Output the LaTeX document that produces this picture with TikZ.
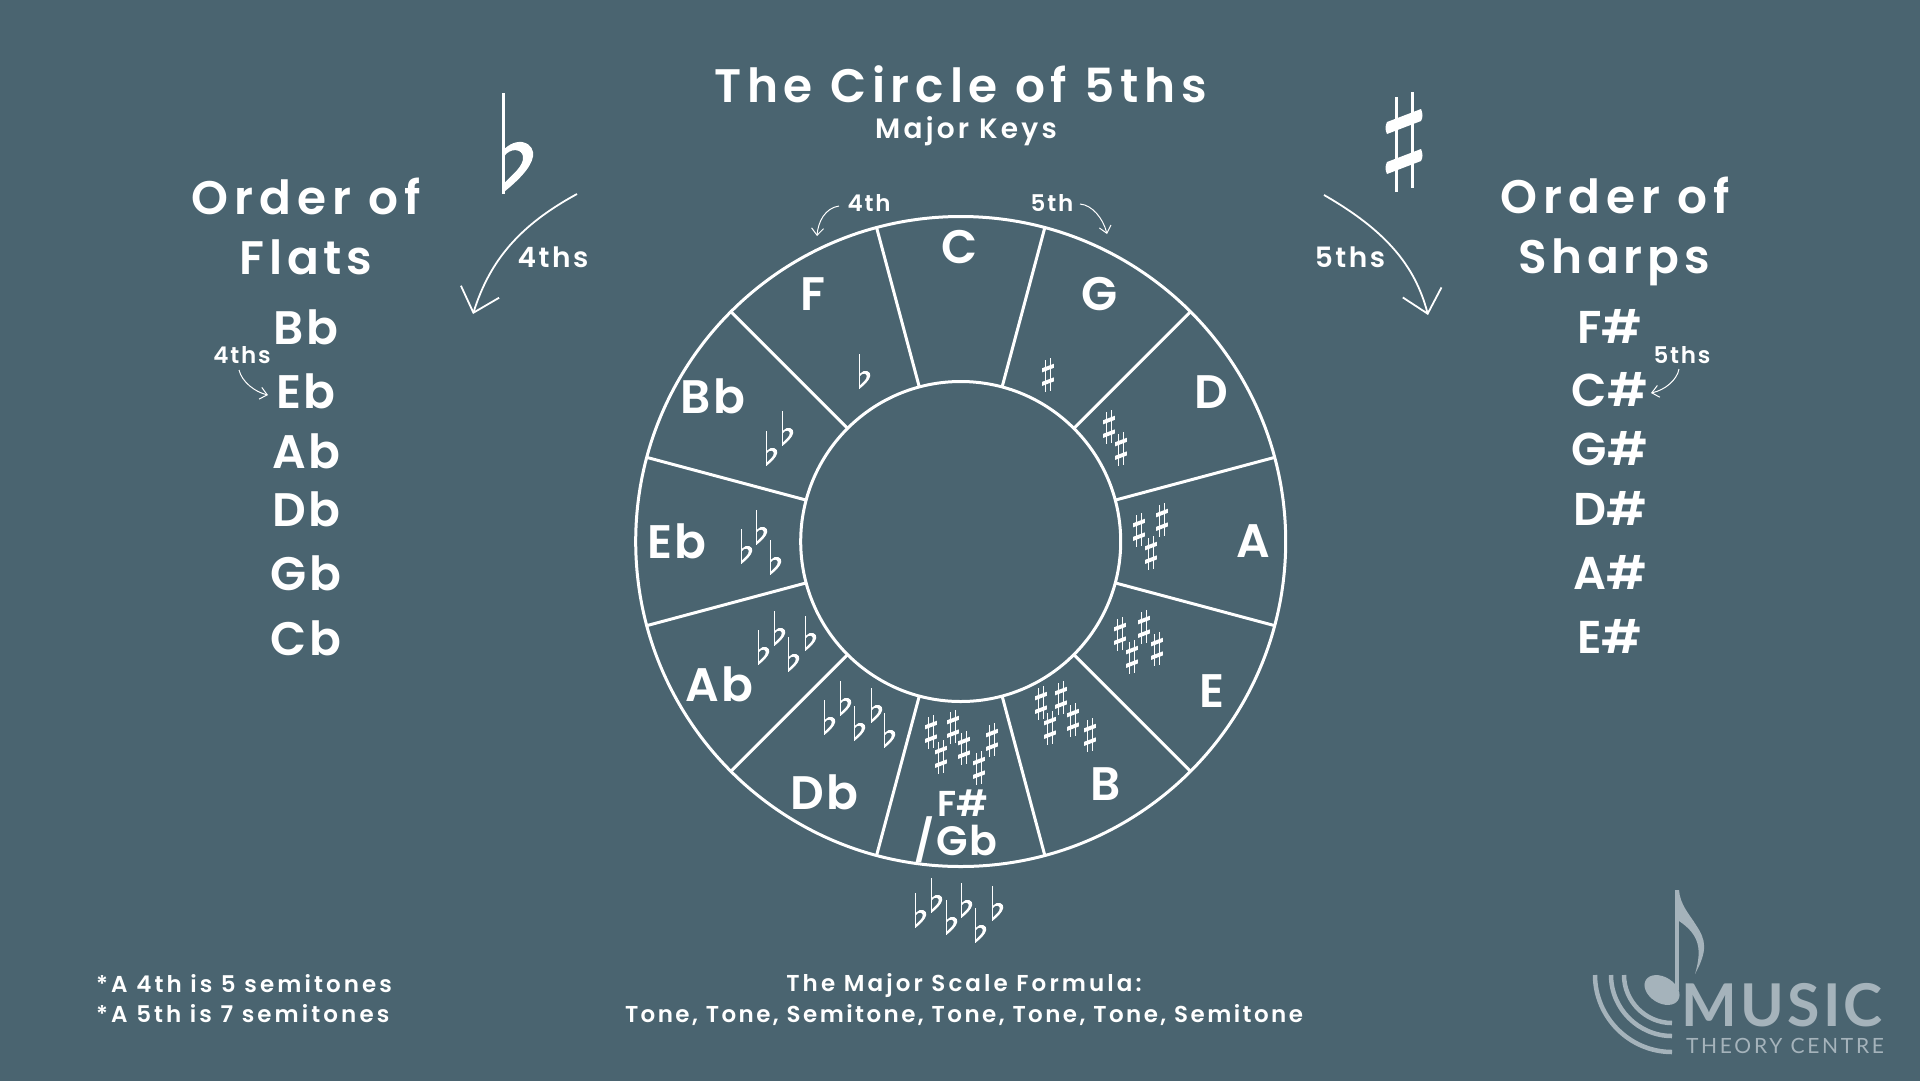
\documentclass[tikz,border=0pt]{standalone}
\usepackage{fontspec}
\setmainfont{Poppins}[BoldFont={Poppins SemiBold}]
\newfontfamily\logofont{Lato}
\usetikzlibrary{arrows.meta}

\definecolor{slatebg}{HTML}{4A6470}
\definecolor{logogrey}{HTML}{A5B3BB}

\tikzset{
    keyname/.style={text=white, inner sep=0pt, font=\bfseries\fontsize{47}{47}\selectfont\addfontfeature{LetterSpace=5}},
    sharpname/.style={text=white, inner sep=0pt, font=\bfseries\fontsize{46}{46}\selectfont},
    heading/.style={text=white, inner sep=0pt, font=\bfseries\fontsize{47}{47}\selectfont\addfontfeature{LetterSpace=13}},
    subheading/.style={text=white, inner sep=0pt, font=\bfseries\fontsize{47}{47}\selectfont\addfontfeature{LetterSpace=10}},
    interval/.style={text=white, inner sep=0pt, font=\bfseries\fontsize{28}{28}\selectfont\addfontfeature{LetterSpace=9}},
    remark/.style={text=white, inner sep=0pt, font=\bfseries\fontsize{23}{23}\selectfont\addfontfeature{LetterSpace=8}},
    footer/.style={text=white, inner sep=0pt, font=\bfseries\fontsize{23}{23}\selectfont\addfontfeature{LetterSpace=13.5}},
    ring/.style={draw=white, line width=3pt},
    sweep/.style={draw=white, line width=1.8pt, -{Straight Barb[length=22pt,width=40pt,line width=1.8pt]}},
    nudge/.style={draw=white, line width=1pt, -{Straight Barb[length=7pt,width=12pt,line width=1pt]}},
    pics/flatmark/.style={code={
        \fill[white] (-16.2,-50) rectangle (-13.4,51);
        \fill[white] (-15,8) .. controls (-9,1) and (0,-2) .. (6,0) .. controls (13,2) and (16,8) .. (15,14)
            .. controls (13,26) and (-2,40) .. (-16,51) -- (-14,41) .. controls (-6,32) and (6,24) .. (5,14)
            .. controls (4,6) and (-8,5) .. (-14,14) -- cycle;
    }},
    pics/sharpmark/.style={code={
        \fill[white] (-9.5,-45) rectangle (-6.5,50);
        \fill[white] (6.5,-50) rectangle (9.5,46);
        \foreach \d in {0,40} {
            \fill[white] (-17,-20+\d) -- (17,-33+\d) .. controls (19,-28+\d) and (19,-25+\d) .. (17,-21+\d)
                -- (-17,-8+\d) .. controls (-19,-12+\d) and (-19,-16+\d) .. (-17,-20+\d) -- cycle;
        }
    }},
}

\begin{document}
\begin{tikzpicture}[x=1pt,y=-1pt]
    \useasboundingbox (0,0) rectangle (1920,1080);
    \fill[slatebg] (-5,-5) rectangle (1925,1085);

    % wheel
    \coordinate (hub) at (960.7,541.5);
    \draw[ring] (hub) circle[radius=325pt];
    \draw[ring] (hub) circle[radius=160pt];
    \foreach \a in {15,45,...,345} {
        \draw[ring] (960.7+160*cos \a,541.5+160*sin \a) -- (960.7+325*cos \a,541.5+325*sin \a);
    }

    % titles
    \node[heading, font=\bfseries\fontsize{47}{47}\selectfont\addfontfeature{LetterSpace=12.5}] (title) at (960.5,84.5) {The Circle of 5ths};
    \node[interval, font=\bfseries\fontsize{28}{28}\selectfont\addfontfeature{LetterSpace=11.5}] (subtitle) at (966,131) {Major Keys};

    % keys round the wheel
    \node[keyname] (keyC) at (960,247) {C};
    \node[keyname] (keyG) at (1100,294) {G};
    \node[keyname] (keyD) at (1211,392) {D};
    \node[keyname] (keyA) at (1253,541) {A};
    \node[keyname] (keyE) at (1212,691) {E};
    \node[keyname] (keyB) at (1106,784) {B};
    \node[keyname, font=\bfseries\fontsize{36}{36}\selectfont] (keyFs) at (963,803) {F\#};
    \node[keyname, font=\bfseries\fontsize{41}{41}\selectfont\addfontfeature{LetterSpace=5}] (keyGb) at (956,840) {/Gb};
    \node[keyname] (keyDb) at (824,792) {Db};
    \node[keyname] (keyAb) at (719,684) {Ab};
    \node[keyname] (keyEb) at (677,541) {Eb};
    \node[keyname] (keyBb) at (713,396) {Bb};
    \node[keyname] (keyF) at (813,294) {F};

    % flats
    \foreach \x/\y in {865/371, 772/448, 788/428, 747/546, 762/527, 776/557, 764/647, 780/628, 794/654, 811/633,
        830/717, 846/698, 860/723, 877/705, 890/730, 921/910, 937/895, 952/917, 967/900, 981/925, 998/903} {
        \pic[scale=0.35] at (\x,\y) {flatmark};
    }
    % sharps
    \foreach \x/\y in {1048/375, 1109/427, 1121/449, 1139/530, 1162/520, 1151/553, 1120/634, 1144/627, 1132/657, 1157/649,
        1041/703, 1061/698, 1050/728, 1073/720, 1090/735, 931/732, 953/727, 941/757, 964/748, 979/768, 992/740} {
        \pic[scale=0.34] at (\x,\y) {sharpmark};
    }

    % big signs
    \pic at (518,142.5) {flatmark};
    \pic at (1404,142) {sharpmark};

    % order of flats
    \node[heading] (flatsA) at (306,196) {Order of};
    \node[subheading] (flatsB) at (306,257) {Flats};
    \node[keyname] (orderBb) at (306,327) {Bb};
    \node[keyname] (orderEb) at (306,391) {Eb};
    \node[keyname] (orderAb) at (306,451) {Ab};
    \node[keyname] (orderDb) at (306,509) {Db};
    \node[keyname] (orderGb) at (306,573) {Gb};
    \node[keyname] (orderCb) at (306,638) {Cb};

    % order of sharps
    \node[heading] (sharpsA) at (1615,195) {Order of};
    \node[subheading] (sharpsB) at (1614,262) {Sharps};
    \node[sharpname] (orderFs) at (1610,326) {F\#};
    \node[sharpname] (orderCs) at (1610,390) {C\#};
    \node[sharpname] (orderGs) at (1610,449) {G\#};
    \node[sharpname] (orderDs) at (1610,508) {D\#};
    \node[sharpname] (orderAs) at (1610,572) {A\#};
    \node[sharpname] (orderEs) at (1610,636) {E\#};

    % interval labels
    \node[interval] (fourthsBig) at (553,257) {4ths};
    \node[interval] (fifthsBig) at (1350,257) {5ths};
    \node[remark] (fourthsSmall) at (242,355) {4ths};
    \node[remark] (fifthsSmall) at (1682,355) {5ths};
    \node[remark] (fourth) at (869,203) {4th};
    \node[remark] (fifth) at (1052,203) {5th};

    % arrows
    \coordinate (bigFlatA) at (577,194);
    \coordinate (bigFlatB) at (473,314);
    \coordinate (bigSharpA) at (1324,195);
    \coordinate (bigSharpB) at (1428,315);
    \coordinate (fourthA) at (839,206);
    \coordinate (fourthB) at (817,236);
    \coordinate (fifthA) at (1080,204);
    \coordinate (fifthB) at (1107,234);
    \coordinate (listFlatA) at (239,370);
    \coordinate (listFlatB) at (268,395);
    \coordinate (listSharpA) at (1679,369);
    \coordinate (listSharpB) at (1651,393);
    \draw[sweep] (bigFlatA) .. controls (520,225) and (490,260) .. (bigFlatB);
    \draw[sweep] (bigSharpA) .. controls (1385,230) and (1415,265) .. (bigSharpB);
    \draw[nudge] (fourthA) .. controls (825,208) and (818,222) .. (fourthB);
    \draw[nudge] (fifthA) .. controls (1092,205) and (1103,218) .. (fifthB);
    \draw[nudge] (listFlatA) .. controls (242,382) and (255,392) .. (listFlatB);
    \draw[nudge] (listSharpA) .. controls (1677,380) and (1665,390) .. (listSharpB);

    % footnotes
    \node[footer, anchor=west] (noteA) at (96,984) {*A 4th is 5 semitones};
    \node[footer, anchor=west] (noteB) at (96,1014) {*A 5th is 7 semitones};
    \node[footer] (formulaA) at (964,986) {The Major Scale Formula:};
    \node[footer, font=\bfseries\fontsize{23}{23}\selectfont\addfontfeature{LetterSpace=10.6}] (formulaB) at (964,1015) {Tone, Tone, Semitone, Tone, Tone, Tone, Semitone};

    % logo
    \foreach \r in {77,61,48} {
        \draw[logogrey, line width=4.5pt] (1672-\r,975) .. controls (1672-\r,975+.55*\r) and (1672-.55*\r,975+\r) .. (1672,975+\r);
    }
    \fill[logogrey, rotate around={-32:(1662,990)}] (1662,990) ellipse[x radius=19pt, y radius=13pt];
    \fill[logogrey] (1675,890) rectangle (1679,990);
    \fill[logogrey] (1679,890) .. controls (1680,905) and (1690,915) .. (1696,925) .. controls (1706,940) and (1708,950) .. (1695,974)
        .. controls (1702,950) and (1700,935) .. (1679,921) -- cycle;
    \node[inner sep=0pt, text=logogrey, font=\logofont\bfseries\fontsize{59}{59}\selectfont\addfontfeature{LetterSpace=5.5}] (music) at (1782,1005) {MUSIC};
    \node[inner sep=0pt, text=logogrey, font=\logofont\fontsize{21}{21}\selectfont\addfontfeature{LetterSpace=13}] (centre) at (1785,1046) {THEORY CENTRE};
\end{tikzpicture}
\end{document}
